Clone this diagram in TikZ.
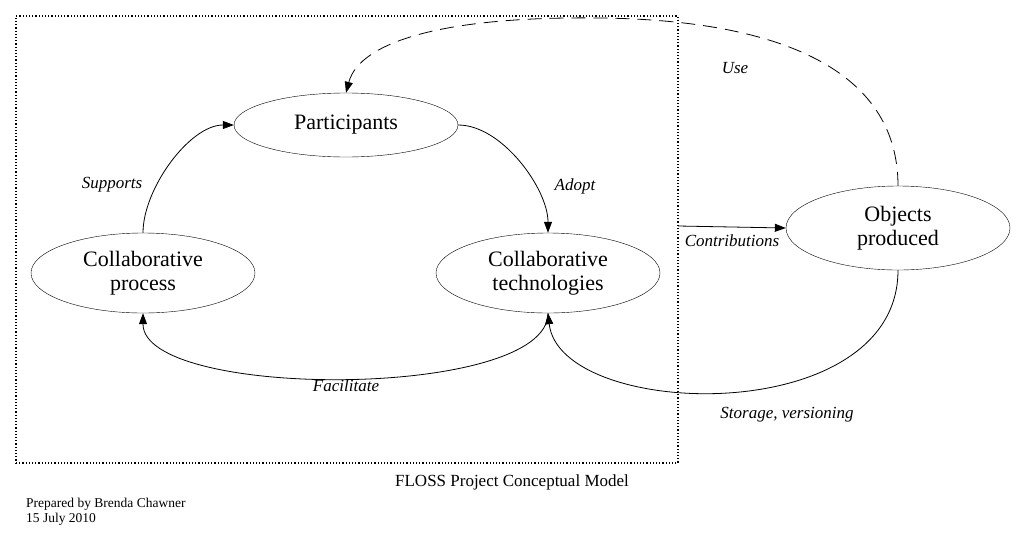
\documentclass[tikz,border=0pt]{standalone}
\usepackage{fontspec}
\setmainfont{Liberation Serif}
\usetikzlibrary{arrows.meta,shapes.geometric}
\begin{document}
\begin{tikzpicture}[x=1pt,y=-1pt,
  el/.style={draw,ellipse,minimum width=224pt,minimum height=#1,align=center,font=\fontsize{22}{24}\selectfont,inner sep=0pt},
  lab/.style={font=\fontsize{17}{19}\selectfont\itshape},
  arr/.style={-{Triangle[length=11pt,width=8pt]},line width=0.8pt}]
\useasboundingbox (0,0) rectangle (1024,533);
\fill[white] (0,0) rectangle (1024,533);
\node[draw,dotted,line width=1.2pt,minimum width=662pt,minimum height=447pt,inner sep=0pt] (frame) at (347,239.5) {};
\node[el=64pt] (par) at (346,125) {Participants};
\node[el=80pt] (proc) at (143,273) {Collaborative\\process};
\node[el=80pt] (tech) at (548,273) {Collaborative\\technologies};
\node[el=84pt] (obj) at (898,228) {Objects\\produced};
\coordinate (cin) at (678,226);
\draw[arr] (proc.north) to[out=90,in=180,looseness=0.8] (par.west);
\draw[arr] (par.east) to[out=0,in=90,looseness=0.8] (tech.north);
\draw[arr] (tech.south) .. controls (548,400) and (143,400) .. (proc.south);
\draw[arr] (obj.south) .. controls (898,430) and (560,420) .. (tech.south);
\draw[arr] (cin) -- (obj.west);
\draw[arr,dashed,dash pattern=on 14pt off 8pt] (obj.north) .. controls (898,70) and (780,20) .. (600,18) .. controls (450,16) and (360,40) .. (par.north);
\node[lab] (l1) at (112,185) {Supports};
\node[lab] (l2) at (575,186) {Adopt};
\node[lab] (l3) at (346,386) {Facilitate};
\node[lab] (l4) at (787,415) {Storage, versioning};
\node[lab] (l5) at (732,241) {Contributions};
\node[lab] (l6) at (735,68) {Use};
\node[font=\fontsize{17}{19}\selectfont] (cap) at (512,482) {FLOSS Project Conceptual Model};
\node[font=\fontsize{13.5}{15.5}\selectfont,anchor=west,align=left,inner sep=0pt] (by) at (26,512) {Prepared by Brenda Chawner\\15 July 2010};
\end{tikzpicture}
\end{document}
